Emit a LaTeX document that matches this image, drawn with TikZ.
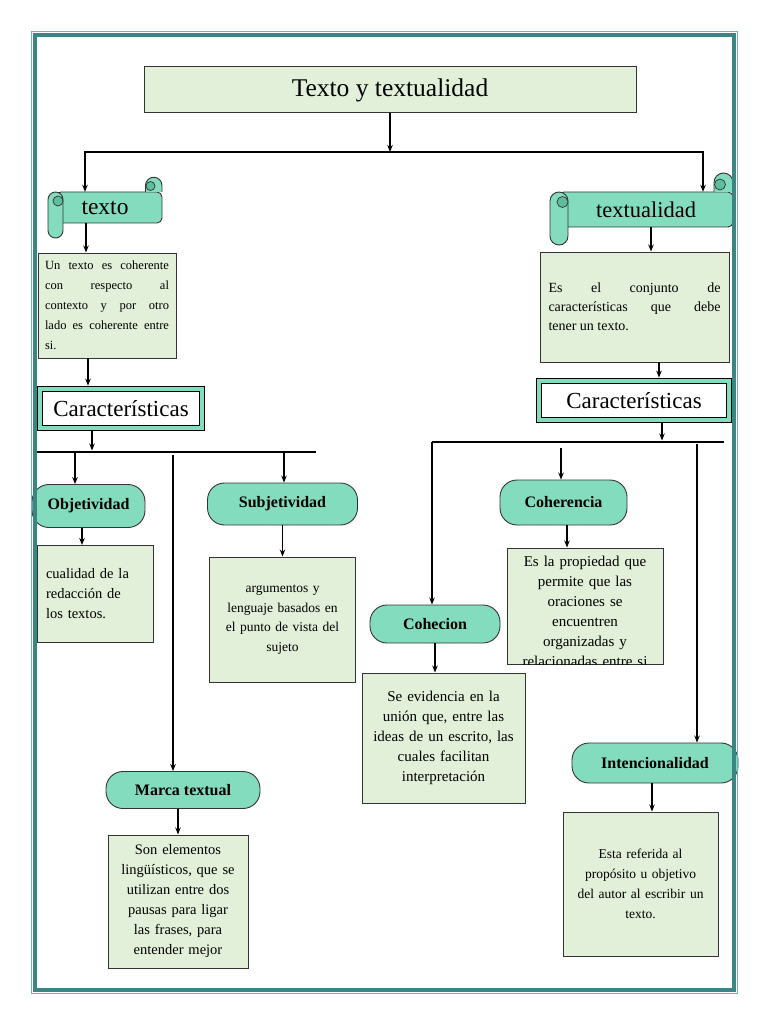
\documentclass[tikz,border=0pt]{standalone}
\usepackage{fontspec}
\setmainfont{Liberation Serif}
\usetikzlibrary{arrows.meta, positioning}

\definecolor{rahmen}{HTML}{3B8584}
\definecolor{rahmenhell}{HTML}{72B2B0}
\definecolor{minze}{HTML}{84DCBF}
\definecolor{minzedunkel}{HTML}{5DBE9E}
\definecolor{hellgruen}{HTML}{E2EFD9}

\begin{document}
\begin{tikzpicture}[x=1pt, y=-1pt, >={Stealth[length=7pt,width=5.5pt]},
	linie/.style={line width=1.3pt},
	kasten/.style={draw=black!80, fill=hellgruen, line width=1pt, inner sep=0pt},
	pille/.style={draw=black!80, fill=minze, line width=0.9pt, rounded corners=17pt, inner sep=0pt, font=\fontsize{16}{19}\selectfont\bfseries},
	merkmal/.style={draw=black, line width=0.8pt, double=minze, double distance=4.5pt, fill=white, inner sep=0pt, font=\fontsize{23}{27}\selectfont},
	rolle/.style={draw=black!80, fill=minze, line width=0.9pt},
	wickel/.style={draw=black!80, fill=minzedunkel, line width=0.7pt}]
		\useasboundingbox (0,0) rectangle (768,1024);
		
		% Titel
		\node[kasten, minimum width=492, minimum height=46, font=\fontsize{25.5}{30}\selectfont] (titulo) at (390,90) {Texto y textualidad};
		
		% Schriftrolle texto
		\filldraw[rolle, rounded corners=5pt] (56,192) -- (162,192) -- (162,223) -- (56,223) -- cycle;
		\filldraw[rolle] (145.5,192) -- (145.5,185.5) arc[start angle=180, end angle=0, radius=8.25pt] -- (162,192);
		\filldraw[wickel] (150.5,186) circle[radius=4.5pt];
		\filldraw[rolle, rounded corners=7.5pt] (48,192) rectangle (63,238);
		\filldraw[wickel] (58,201) circle[radius=5pt];
		\node[minimum width=114, minimum height=31, inner sep=0pt, font=\fontsize{23.5}{27}\selectfont] (texto) at (105,207.5) {texto};
		
		% Schriftrolle textualidad
		\filldraw[rolle, rounded corners=5pt] (559,192) -- (733,192) -- (733,227) -- (559,227) -- cycle;
		\filldraw[rolle] (714,192) -- (714,182.5) arc[start angle=180, end angle=0, radius=9.5pt] -- (733,192);
		\filldraw[wickel] (720,184.5) circle[radius=5.5pt];
		\filldraw[rolle, rounded corners=9pt] (550,192) rectangle (568,245);
		\filldraw[wickel] (562.5,202) circle[radius=5.5pt];
		\node[minimum width=174, minimum height=35, inner sep=0pt, font=\fontsize{22.5}{26}\selectfont] (textualidad) at (646,209.5) {textualidad};
		
		% Definitionen
		\node[kasten, minimum width=138, minimum height=105, text width=124, align=justify, font=\fontsize{12.5}{20}\selectfont] (def1) at (107,305.5) {Un texto es coherente\linebreak con respecto al\linebreak contexto y por otro\linebreak lado es coherente entre\linebreak si.};
		\node[kasten, minimum width=189, minimum height=110, text width=172, align=justify, font=\fontsize{14}{19}\selectfont] (def2) at (634.5,307) {Es el conjunto de\linebreak características que debe\linebreak tener un texto.};
		
		% Merkmale
		\node[merkmal, minimum width=162, minimum height=39] (car1) at (121,408.5) {Características};
		\node[merkmal, minimum width=190, minimum height=39] (car2) at (634,400.5) {Características};
		
		% Eigenschaften links
		\node[pille, minimum width=113, minimum height=43] (obj) at (88.5,506) {Objetividad};
		\node[pille, minimum width=150, minimum height=42] (subj) at (282.5,504) {Subjetividad};
		\node[pille, minimum width=154, minimum height=37] (marca) at (183,790) {Marca textual};
		\node[kasten, minimum width=116, minimum height=97, text width=98, align=left, font=\fontsize{14.5}{20}\selectfont] (obj2) at (95,594) {cualidad de la\\ redacción de\\ los textos.};
		\node[kasten, minimum width=146, minimum height=125, text width=140, align=center, font=\fontsize{13.5}{19.5}\selectfont] (subj2) at (282.5,619.5) {argumentos y\\ lenguaje basados en\\ el punto de vista del\\ sujeto};
		\node[kasten, minimum width=140, minimum height=133, text width=136, align=center, font=\fontsize{14.5}{20}\selectfont] (marca2) at (178,901.5) {Son elementos\\ lingüísticos, que se\\ utilizan entre dos\\ pausas para ligar\\ las frases, para\\ entender mejor};
		
		% Eigenschaften rechts
		\node[pille, minimum width=127, minimum height=45] (coher) at (563.5,502.5) {Coherencia};
		\node[pille, minimum width=130, minimum height=38] (cohes) at (435,624) {Cohecion};
		\node[pille, minimum width=166, minimum height=40] (inten) at (655,763) {Intencionalidad};
		\node[kasten, minimum width=156, minimum height=116] (coher2) at (585,606) {};
		\begin{scope}
			\clip (coher2.north west) rectangle (coher2.south east);
			\node[anchor=north, yshift=-8.8pt, inner sep=0pt, text width=150, align=center, font=\fontsize{15}{20}\selectfont] (coher3) at (coher2.north) {Es la propiedad que\\ permite que las\\ oraciones se\\ encuentren\\ organizadas y\\ relacionadas entre si};
		\end{scope}
		\node[kasten, minimum width=163, minimum height=130, text width=159, align=center, font=\fontsize{15}{20}\selectfont] (cohes2) at (443.5,738) {Se evidencia en la\\ unión que, entre las\\ ideas de un escrito, las\\ cuales facilitan\\ interpretación};
		\node[kasten, minimum width=155, minimum height=144, text width=151, align=center, font=\fontsize{13.5}{20}\selectfont] (inten2) at (640.5,884) {Esta referida al\\ propósito u objetivo\\ del autor al escribir un\\ texto.};
		
		% Verbindungen oben
		\coordinate (bus1l) at (85,152);
		\coordinate (bus1r) at (703,152);
		\draw[linie] ([xshift=-1pt]bus1l) -- ([xshift=1pt]bus1r);
		\draw[linie,->] (titulo.south) -- (titulo.south |- bus1l);
		\draw[linie,->] (bus1l) -- (bus1l |- texto.north);
		\draw[linie,->] (bus1r) -- (bus1r |- textualidad.north);
		
		% Verbindungen links
		\coordinate (ab1) at (86,223);
		\coordinate (ab2) at (88,358);
		\coordinate (ab3) at (92,431);
		\coordinate (bus2l) at (33,452);
		\coordinate (bus2r) at (316,452);
		\coordinate (ab4) at (75,452);
		\coordinate (ab5) at (173,455);
		\coordinate (ab6) at (284,452);
		\coordinate (ab7) at (82,528);
		\draw[linie,->] (ab1) -- (ab1 |- def1.north);
		\draw[linie,->] (ab2) -- ([yshift=3pt]ab2 |- car1.north);
		\draw[linie,->] (ab3) -- ([yshift=1.5pt]ab3 |- bus2l);
		\draw[linie] (bus2l) -- (bus2r);
		\draw[linie,->] (ab4) -- (ab4 |- obj.north);
		\draw[linie,->] (ab5) -- (ab5 |- marca.north);
		\draw[linie,->] (ab6) -- (ab6 |- subj.north);
		\draw[linie,->] (ab7) -- (ab7 |- obj2.north);
		\draw[linie,->] (subj.south) -- (subj2.north);
		\draw[linie,->] (marca2.north |- marca.south) -- (marca2.north);
		
		% Verbindungen rechts
		\coordinate (ab8) at (651,227);
		\coordinate (ab9) at (659,362);
		\coordinate (ab10) at (662,423);
		\coordinate (bus3l) at (432,442);
		\coordinate (bus3r) at (724,442);
		\coordinate (ab11) at (561,448);
		\coordinate (ab12) at (697,444);
		\coordinate (ab13) at (567,525);
		\coordinate (ab14) at (652,783);
		\draw[linie,->] (ab8) -- (ab8 |- def2.north);
		\draw[linie,->] (ab9) -- ([yshift=3pt]ab9 |- car2.north);
		\draw[linie,->] (ab10) -- ([yshift=1.5pt]ab10 |- bus3l);
		\draw[linie] (bus3l) -- (bus3r);
		\draw[linie,->] (bus3l) -- (bus3l |- cohes.north);
		\draw[linie,->] (ab11) -- (ab11 |- coher.north);
		\draw[linie,->] (ab12) -- (ab12 |- inten.north);
		\draw[linie,->] (ab13) -- (ab13 |- coher2.north);
		\draw[linie,->] (cohes.south) -- (cohes.south |- cohes2.north);
		\draw[linie,->] (ab14) -- (ab14 |- inten2.north);
		
		% Rahmen
		\draw[rahmenhell, line width=0.8pt] (31,31) rectangle (737.5,993.5);
		\draw[rahmen, line width=3.8pt] (35,35) rectangle (734,990);
	\end{tikzpicture}
\end{document}
